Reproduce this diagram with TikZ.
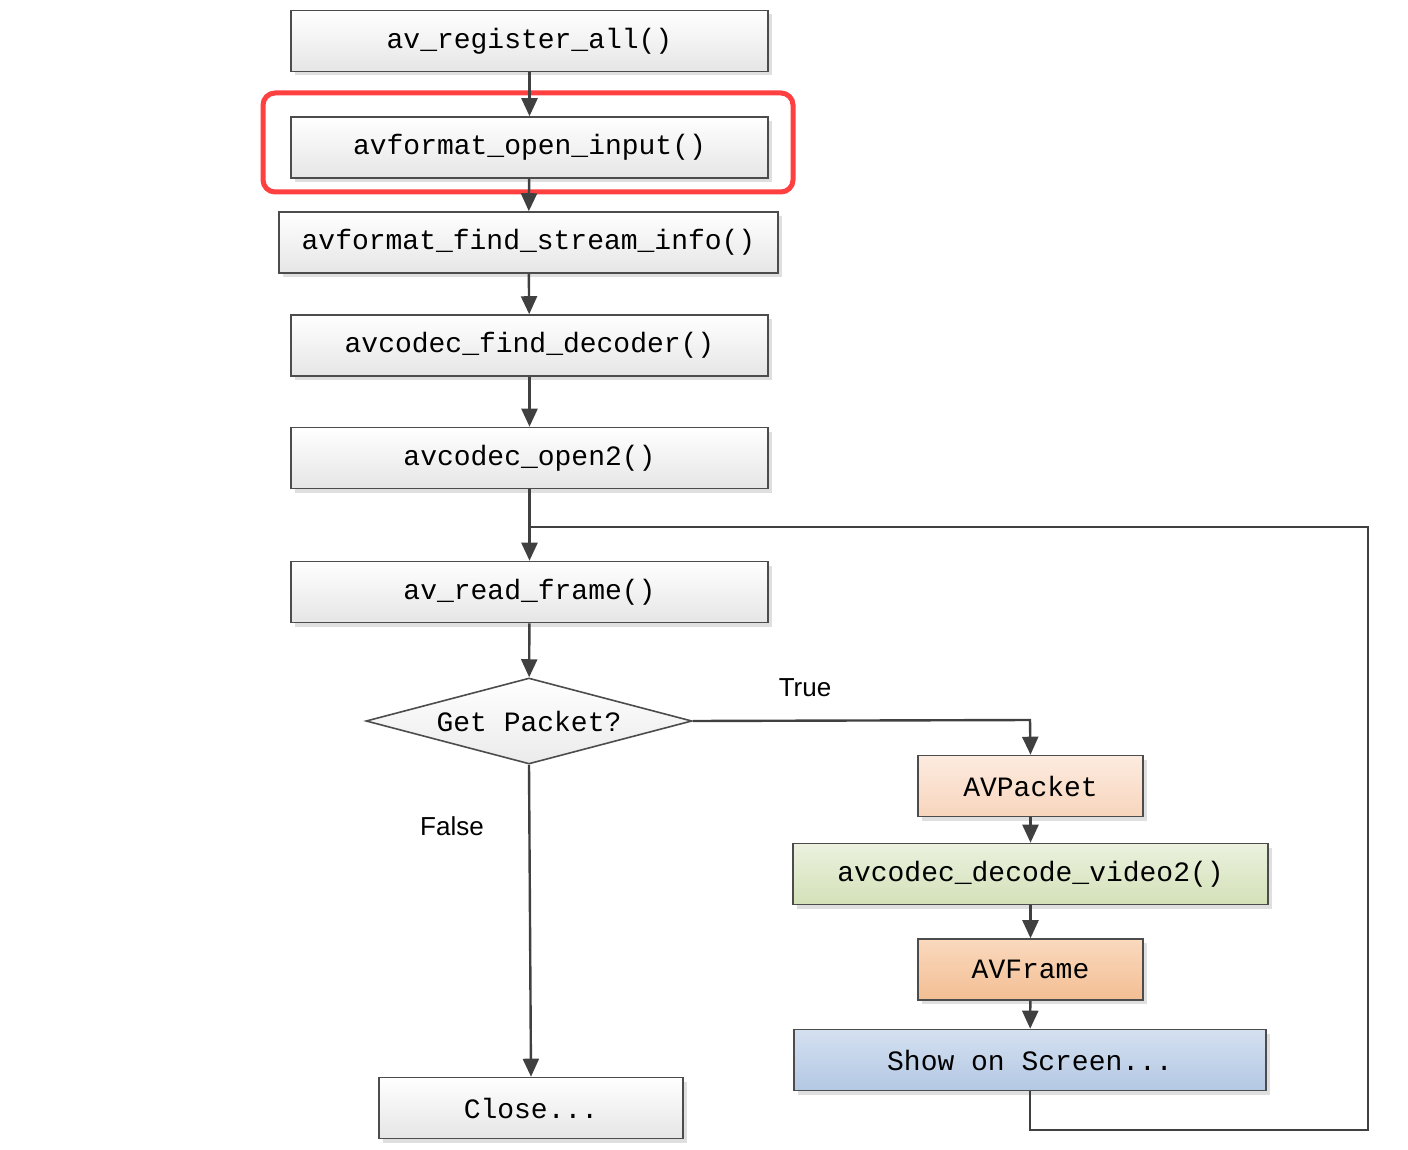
\documentclass[tikz,border=0pt]{standalone}
\usepackage{fontspec}
\setmainfont{Liberation Mono}
\newfontfamily\sansf{Liberation Sans}
\usetikzlibrary{shapes.geometric,arrows.meta,shadows}
\definecolor{pk1}{HTML}{FCEBDF}\definecolor{pk2}{HTML}{F8D5BD}
\definecolor{gr1}{HTML}{EBF1DE}\definecolor{gr2}{HTML}{D3E1B8}
\definecolor{fr1}{HTML}{FAD9BE}\definecolor{fr2}{HTML}{F3BE93}
\definecolor{bl1}{HTML}{D4E0F0}\definecolor{bl2}{HTML}{B3C8E3}
\begin{document}
\begin{tikzpicture}[x=0.5pt,y=-0.5pt,
 box/.style={draw=black!70,line width=0.8pt,minimum height=30.5pt,inner sep=0pt,
   top color=white,bottom color=black!10,drop shadow={shadow xshift=2pt,shadow yshift=-2pt,opacity=0.25},
   font=\fontsize{14}{16}\selectfont},
 arr/.style={draw=black!75,line width=1.2pt,-{Triangle[length=9pt,width=8pt]}},
 ln/.style={draw=black!75,line width=1.2pt}]
\useasboundingbox (0,0) rectangle (1408,1150);
\node[box,minimum width=238.5pt] (a) at (529.5,41) {av\_register\_all()};
\node[box,minimum width=238.5pt] (b) at (529.5,147.5) {avformat\_open\_input()};
\node[box,minimum width=249.5pt] (c) at (528.5,242.5) {avformat\_find\_stream\_info()};
\node[box,minimum width=238.5pt] (d) at (529.5,345.5) {avcodec\_find\_decoder()};
\node[box,minimum width=238.5pt] (e) at (529.5,458) {avcodec\_open2()};
\node[box,minimum width=238.5pt] (f) at (529.5,592) {av\_read\_frame()};
\node[diamond,aspect=3.8,draw=black!70,line width=0.8pt,inner sep=0pt,minimum width=163pt,minimum height=43pt,
  top color=white,bottom color=black!8,font=\fontsize{14}{16}\selectfont] (g) at (529,721) {Get Packet?};
\node[box,minimum width=112.5pt,top color=pk1,bottom color=pk2] (p) at (1030.5,786) {AVPacket};
\node[box,minimum width=237.5pt,top color=gr1,bottom color=gr2] (v) at (1030.5,874) {avcodec\_decode\_video2()};
\node[box,minimum width=112.5pt,top color=fr1,bottom color=fr2] (r) at (1030.5,969.5) {AVFrame};
\node[box,minimum width=236pt,top color=bl1,bottom color=bl2] (s) at (1030,1060) {Show on Screen...};
\node[box,minimum width=152pt] (x) at (531,1108) {Close...};
\draw[red!75,line width=2.5pt,rounded corners=6pt] (263,93) rectangle (793,192);
\draw[arr] (a) -- (b);
\draw[arr] (b) -- (c);
\draw[arr] (c) -- (d);
\draw[arr] (d) -- (e);
\draw[arr] (e) -- (f);
\draw[arr] (f) -- (g);
\draw[arr] (g.east) -- (1030,720) -- (p.north);
\draw[arr] (p) -- (v);
\draw[arr] (v) -- (r);
\draw[arr] (r) -- (s);
\draw[arr] (g.south) -- (x.north);
\coordinate (l1) at (1030,1130);
\coordinate (l2) at (1368,1130);
\coordinate (l3) at (1368,527);
\coordinate (l4) at (530,527);
\draw[ln] (s.south) -- (l1) -- (l2) -- (l3) -- (l4);
\node[font=\sansf\fontsize{13}{15}\selectfont] (t) at (805,688) {True};
\node[font=\sansf\fontsize{13}{15}\selectfont] (fl) at (452,826) {False};
\end{tikzpicture}
\end{document}
